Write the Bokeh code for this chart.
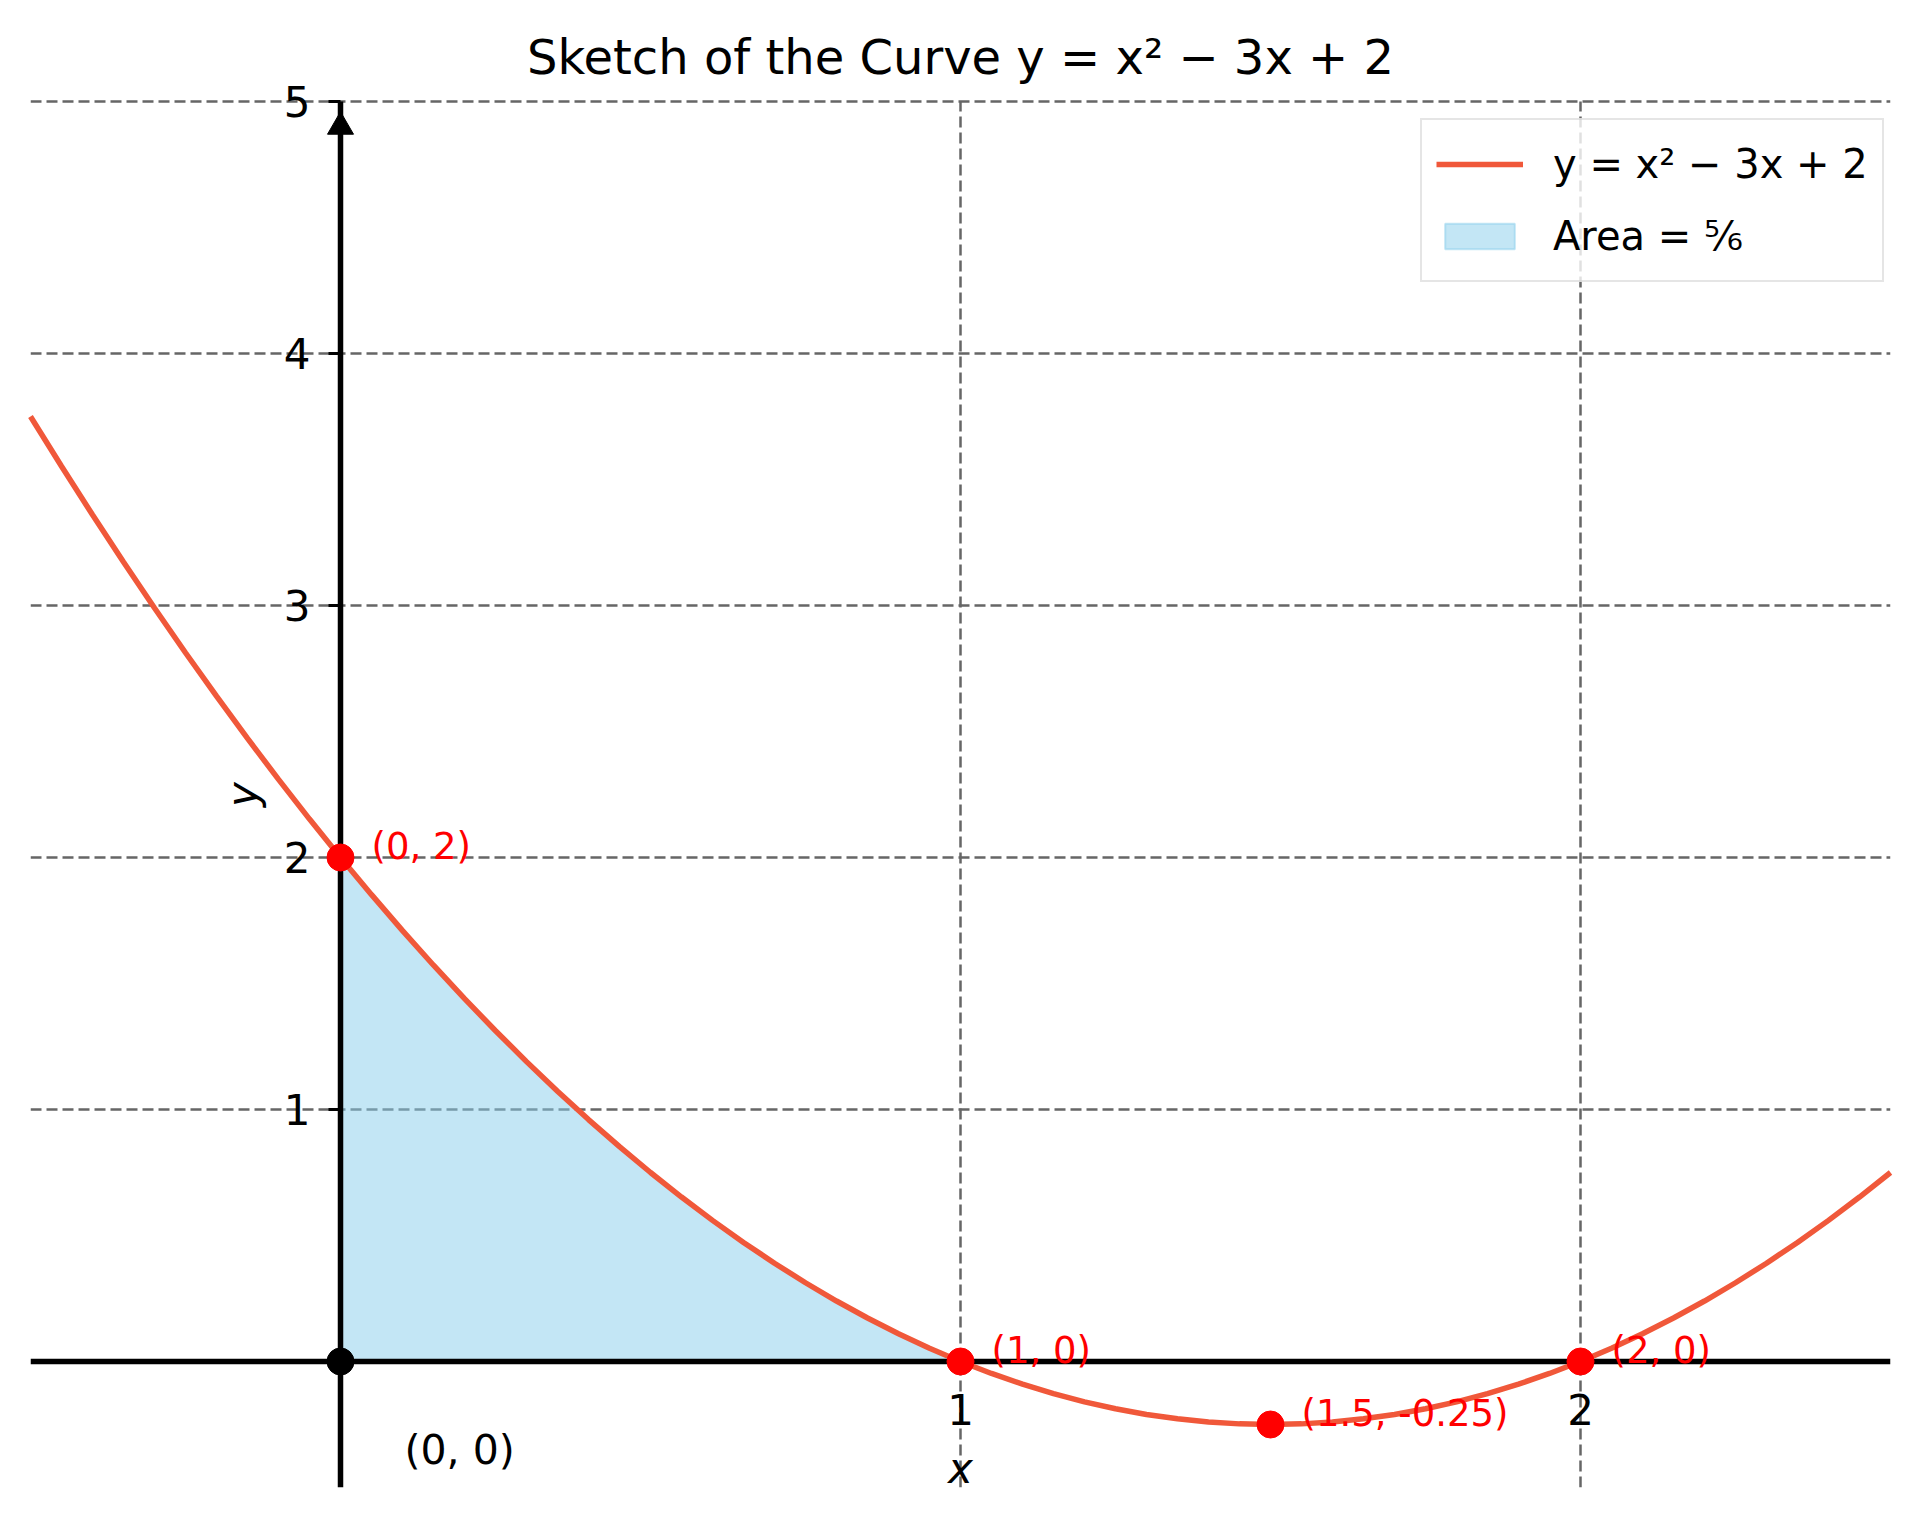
from bokeh.plotting import figure
from bokeh.models import Range1d, FixedTicker, Legend, LegendItem, ColumnDataSource
from bokeh.core.properties import value
from bokeh.embed import file_html
from bokeh.resources import INLINE

# ---- data ----
curve_x = [-0.5, -0.45, -0.4, -0.35, -0.3, -0.25, -0.2, -0.15, -0.1, -0.05,
           0.0, 0.05, 0.1, 0.15, 0.2, 0.25, 0.3, 0.35, 0.4, 0.45,
           0.5, 0.55, 0.6, 0.65, 0.7, 0.75, 0.8, 0.85, 0.9, 0.95,
           1.0, 1.05, 1.1, 1.15, 1.2, 1.25, 1.3, 1.35, 1.4, 1.45,
           1.5, 1.55, 1.6, 1.65, 1.7, 1.75, 1.8, 1.85, 1.9, 1.95,
           2.0, 2.05, 2.1, 2.15, 2.2, 2.25, 2.3, 2.35, 2.4, 2.45, 2.5]
curve_y = [3.75, 3.5525, 3.36, 3.1725, 2.99, 2.8125, 2.64, 2.4725, 2.31, 2.1525,
           2.0, 1.8525, 1.71, 1.5725, 1.44, 1.3125, 1.19, 1.0725, 0.96, 0.8525,
           0.75, 0.6525, 0.56, 0.4725, 0.39, 0.3125, 0.24, 0.1725, 0.11, 0.0525,
           0.0, -0.0475, -0.09, -0.1275, -0.16, -0.1875, -0.21, -0.2275, -0.24, -0.2475,
           -0.25, -0.2475, -0.24, -0.2275, -0.21, -0.1875, -0.16, -0.1275, -0.09, -0.0475,
           0.0, 0.0525, 0.11, 0.1725, 0.24, 0.3125, 0.39, 0.4725, 0.56, 0.6525, 0.75]
area_x = [0.0, 0.05, 0.1, 0.15, 0.2, 0.25, 0.3, 0.35, 0.4, 0.45,
          0.5, 0.55, 0.6, 0.65, 0.7, 0.75, 0.8, 0.85, 0.9, 0.95, 1.0]
area_y = [2.0, 1.8525, 1.71, 1.5725, 1.44, 1.3125, 1.19, 1.0725, 0.96, 0.8525,
          0.75, 0.6525, 0.56, 0.4725, 0.39, 0.3125, 0.24, 0.1725, 0.11, 0.0525, 0.0]
point_x = [0, 1, 2, 1.5]
point_y = [2, 0, 0, -0.25]
point_labels = ["(0, 2)", "(1, 0)", "(2, 0)", "(1.5, -0.25)"]
origin_x = [0]
origin_y = [0]
origin_labels = ["(0, 0)"]
x_ticks = [1, 2]
y_ticks = [1, 2, 3, 4, 5]
x_lim = (-0.5, 2.5)
y_lim = (-0.5, 5)
arrow_y = [4.9]
title_text = "Sketch of the Curve y = x² − 3x + 2"
curve_label = "y = x² − 3x + 2"
area_label = "Area = ⁵⁄₆"

FONT = "DejaVu Sans"
CURVE_COLOR = "#F0583A"
GRID_COLOR = "#666666"

# a little head-room above y=5 so the top tick label is not clipped
Y_TOP = y_lim[1] + 16 / 252

p = figure(width=1903, height=1505, output_backend="svg", toolbar_location=None,
           x_range=Range1d(*x_lim), y_range=Range1d(y_lim[0], Y_TOP),
           min_border_left=30, min_border_right=13, min_border_top=85, min_border_bottom=18)
p.outline_line_color = None
p.background_fill_color = "white"

p.title.text = title_text
p.title.text_font = FONT
p.title.text_font_size = "48px"
p.title.text_font_style = "normal"
p.title.align = "center"
p.title.text_color = "black"
p.title.standoff = 2

# axes through the origin
for ax, ticks in ((p.xaxis[0], x_ticks), (p.yaxis[0], y_ticks)):
    ax.fixed_location = 0
    ax.ticker = FixedTicker(ticks=ticks)
    ax.axis_line_width = 5.5
    ax.axis_line_color = "black"
    ax.major_tick_line_width = 3
    ax.major_tick_line_color = "black"
    ax.major_tick_out = 12
    ax.major_tick_in = 0
    ax.minor_tick_line_color = None
    ax.major_label_text_font = FONT
    ax.major_label_text_font_size = "42px"
    ax.major_label_text_color = "black"
    ax.axis_label_text_font = FONT
    ax.axis_label_text_font_size = "42px"
    ax.axis_label_text_font_style = "italic"
    ax.axis_label_text_color = "black"
p.yaxis.bounds = y_lim
p.xaxis.axis_label = "x"
p.yaxis.axis_label = "y"
p.xaxis.major_label_standoff = 20
p.xaxis.axis_label_standoff = 16
p.yaxis.major_label_standoff = 18
p.yaxis.axis_label_standoff = 14

# grid: horizontal lines from the y axis ticker, vertical lines at the x ticks up to y=5
p.ygrid.grid_line_color = GRID_COLOR
p.ygrid.grid_line_dash = "11 5"
p.ygrid.grid_line_width = 2.5
p.xgrid.visible = False
p.segment(x0=x_ticks, y0=[y_lim[0]] * len(x_ticks), x1=x_ticks, y1=[y_lim[1]] * len(x_ticks),
          line_color=GRID_COLOR, line_dash="11 5", line_width=2.5, level="underlay")

# shaded area
area_src = ColumnDataSource(dict(x=area_x + [area_x[0]], y=area_y + [0.0]))
area_r = p.patch("x", "y", source=area_src, fill_color="skyblue", fill_alpha=0.5,
                 line_color="skyblue", line_alpha=0.5, line_width=2)

# curve
curve_r = p.line(curve_x, curve_y, line_color=CURVE_COLOR, line_width=5.5, level="overlay")

# key points
p.scatter(point_x, point_y, size=27, color="red", level="overlay")
p.scatter(origin_x, origin_y, size=27, color="black", level="overlay")
p.text(point_x, point_y, text=point_labels, x_offset=31, y_offset=-11, text_color="red",
       text_font=value(FONT), text_font_size="37px", text_baseline="middle",
       level="overlay")
p.text(origin_x, origin_y, text=origin_labels, x_offset=64, y_offset=88, text_color="black",
       text_font=value(FONT), text_font_size="41px", text_baseline="middle",
       level="overlay")

# arrow head on the y axis
p.scatter([0], arrow_y, marker="triangle", size=26, color="black", level="overlay")

legend = Legend(items=[LegendItem(label=curve_label, renderers=[curve_r]),
                       LegendItem(label=area_label, renderers=[area_r])],
                location=(1390, 1205), padding=14, spacing=12,
                label_height=60, glyph_height=32, glyph_width=87, label_standoff=30,
                label_text_font=FONT, label_text_font_size="40px", label_text_color="black",
                border_line_color="#cccccc", border_line_width=2.5,
                background_fill_color="white", background_fill_alpha=0.8)
p.add_layout(legend)

open("out.html", "w").write(file_html(p, INLINE))
